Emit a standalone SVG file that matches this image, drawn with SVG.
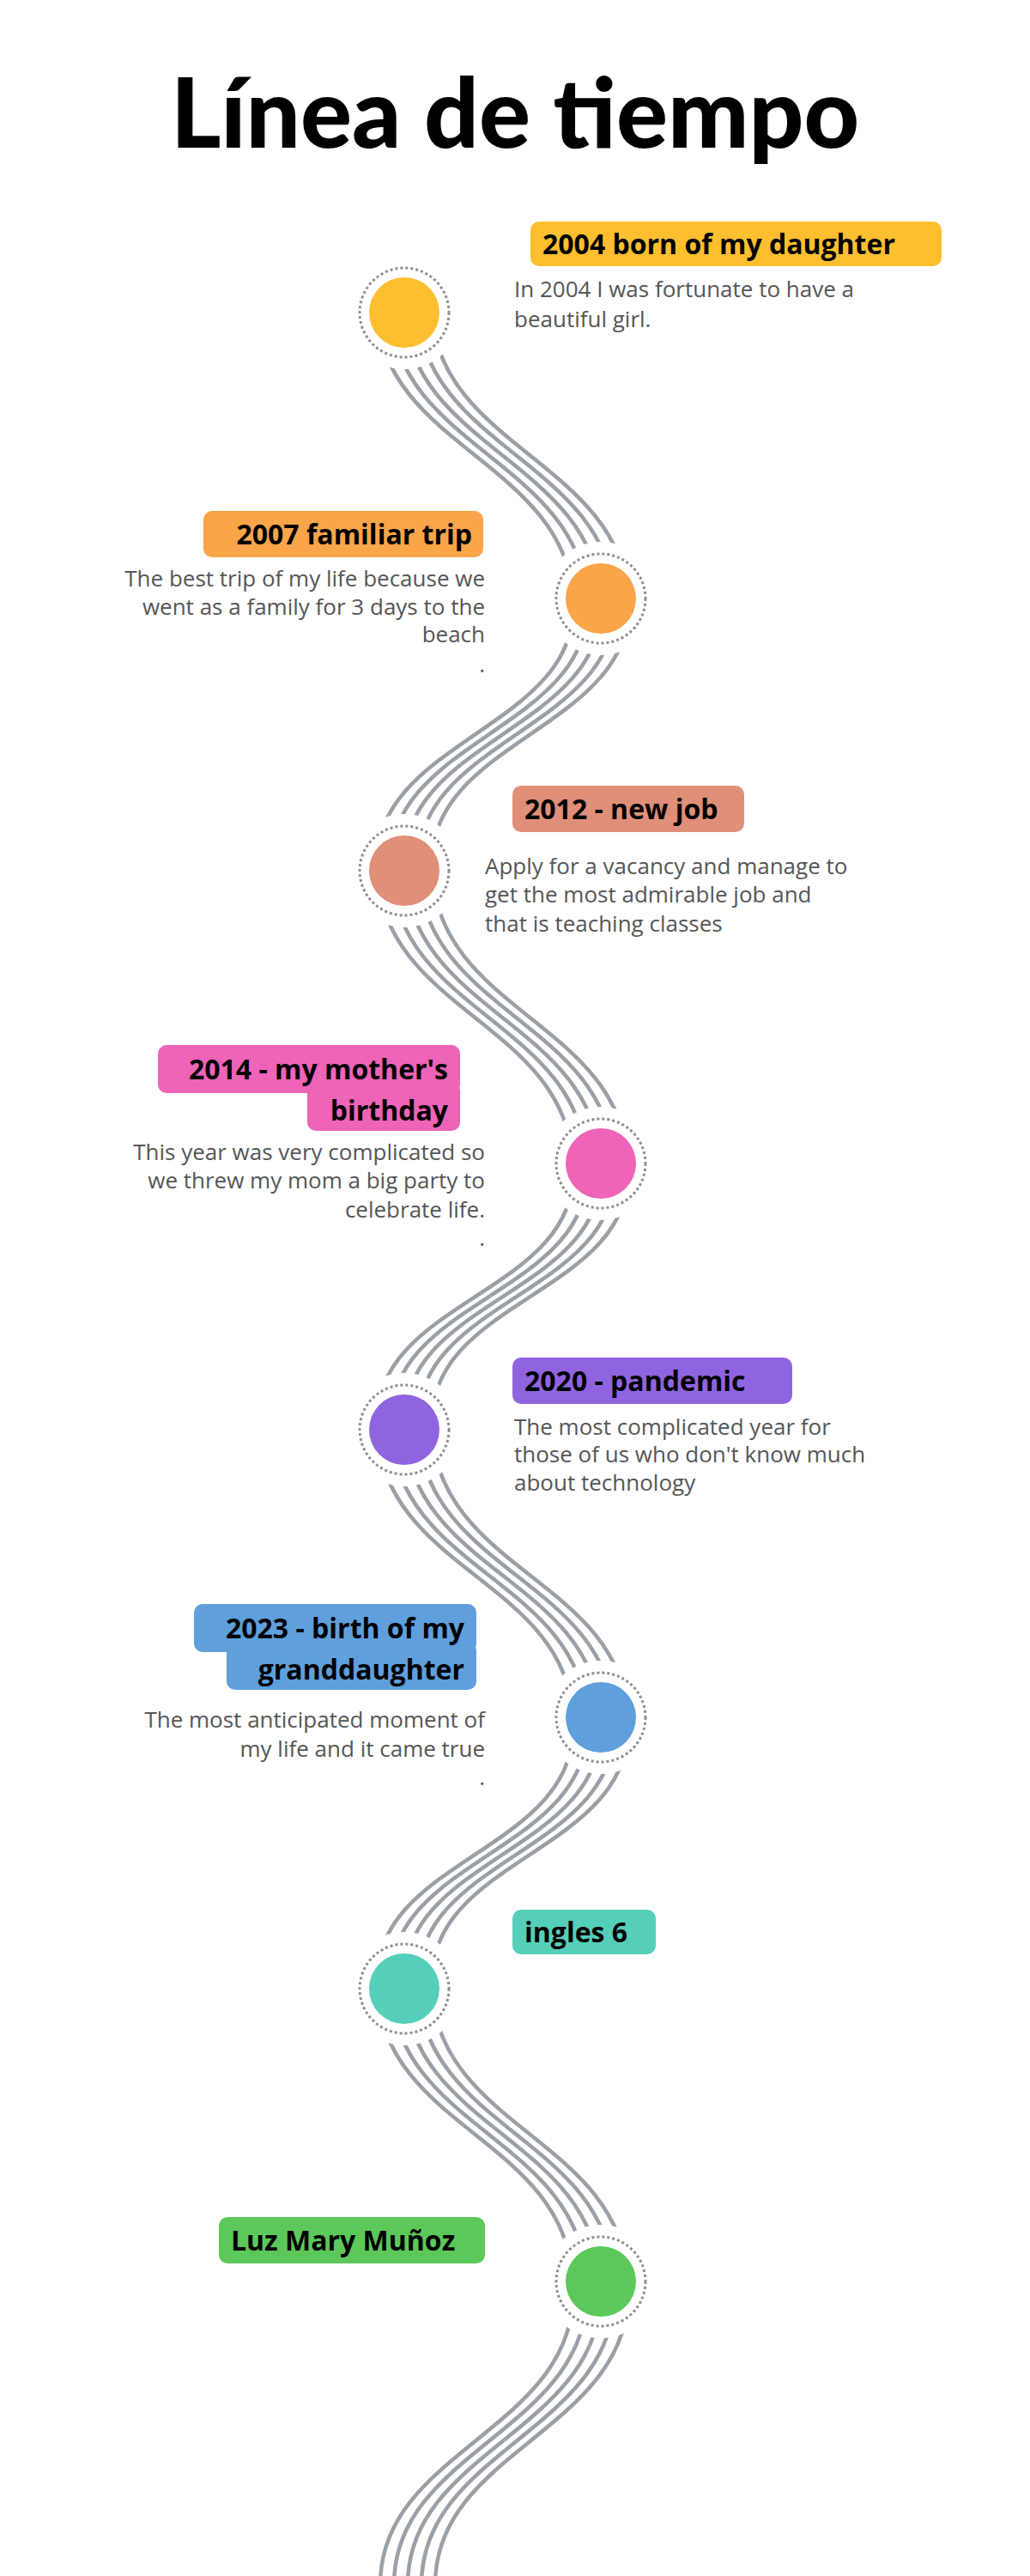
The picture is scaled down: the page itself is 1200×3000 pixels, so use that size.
<svg xmlns="http://www.w3.org/2000/svg" width="1200" height="3000" viewBox="0 0 1200 3000">
<style>
.title{font-family:Lato,"Liberation Sans",sans-serif;font-weight:900;font-size:112px;fill:#000}
.lab{font-family:"Open Sans","Liberation Sans",sans-serif;font-weight:700;font-size:32px;fill:#000}
.body{font-family:"Open Sans","Liberation Sans",sans-serif;font-size:26px;fill:#555}
.strand{fill:none;stroke:#9AA0A6;stroke-width:4.5}
.cover{fill:#fff}
.ring{fill:#fff;stroke:#8a9097;stroke-width:3;stroke-dasharray:3 3}
.r{text-anchor:end}
</style>
<defs>
<path id="wave" d="M471,364 C480,520 690,540 700,697 C710,850 462,860 471,1014 C480,1180 690,1190 700,1355 C710,1510 462,1510 471,1665 C480,1830 690,1840 700,2000 C710,2160 462,2160 471,2316 C480,2480 690,2490 700,2657 C710,2830 475,2850 475,3010"/>
</defs>
<rect width="1200" height="3000" fill="#fff"/>
<text class="title" x="600" y="172" text-anchor="middle">Línea de tiempo</text>
<g id="connectors">
<use href="#wave" class="strand" transform="translate(-32,0)"/>
<use href="#wave" class="strand" transform="translate(-16,0)"/>
<use href="#wave" class="strand"/>
<use href="#wave" class="strand" transform="translate(16,0)"/>
<use href="#wave" class="strand" transform="translate(32,0)"/>
</g>
<g id="n1"><circle class="cover" cx="471" cy="364" r="66"/><circle class="ring" cx="471" cy="364" r="52"/><circle cx="471" cy="364" r="41" fill="#FDBF2F"/>
<rect x="618" y="258" width="479" height="52" rx="10" fill="#FDBF2F"/><text class="lab" x="632" y="296">2004 born of my daughter</text>
<text class="body" x="599" y="346">In 2004 I was fortunate to have a</text><text class="body" x="599" y="381">beautiful girl.</text></g>
<g id="n2"><circle class="cover" cx="700" cy="697" r="66"/><circle class="ring" cx="700" cy="697" r="52"/><circle cx="700" cy="697" r="41" fill="#F9A54A"/>
<rect x="237" y="595" width="326" height="54" rx="10" fill="#F9A54A"/><text class="lab r" x="550" y="634">2007 familiar trip</text>
<text class="body r" x="565" y="683">The best trip of my life because we</text><text class="body r" x="565" y="716">went as a family for 3 days to the</text><text class="body r" x="565" y="748">beach</text><text class="body r" x="565" y="783">.</text></g>
<g id="n3"><circle class="cover" cx="471" cy="1014" r="66"/><circle class="ring" cx="471" cy="1014" r="52"/><circle cx="471" cy="1014" r="41" fill="#E08F78"/>
<rect x="597" y="915" width="270" height="54" rx="10" fill="#E08F78"/><text class="lab" x="611" y="954">2012 - new job</text>
<text class="body" x="565" y="1018">Apply for a vacancy and manage to</text><text class="body" x="565" y="1051">get the most admirable job and</text><text class="body" x="565" y="1085">that is teaching classes</text></g>
<g id="n4"><circle class="cover" cx="700" cy="1355" r="66"/><circle class="ring" cx="700" cy="1355" r="52"/><circle cx="700" cy="1355" r="41" fill="#EE64B8"/>
<rect x="184" y="1217" width="352" height="56" rx="10" fill="#EE64B8"/><rect x="358" y="1260" width="178" height="57" rx="10" fill="#EE64B8"/>
<text class="lab r" x="522" y="1257">2014 - my mother's</text><text class="lab r" x="522" y="1305">birthday</text>
<text class="body r" x="565" y="1351">This year was very complicated so</text><text class="body r" x="565" y="1384">we threw my mom a big party to</text><text class="body r" x="565" y="1418">celebrate life.</text><text class="body r" x="565" y="1451">.</text></g>
<g id="n5"><circle class="cover" cx="471" cy="1665" r="66"/><circle class="ring" cx="471" cy="1665" r="52"/><circle cx="471" cy="1665" r="41" fill="#9064E0"/>
<rect x="597" y="1581" width="326" height="54" rx="10" fill="#9064E0"/><text class="lab" x="611" y="1620">2020 - pandemic</text>
<text class="body" x="599" y="1671">The most complicated year for</text><text class="body" x="599" y="1703">those of us who don't know much</text><text class="body" x="599" y="1736">about technology</text></g>
<g id="n6"><circle class="cover" cx="700" cy="2000" r="66"/><circle class="ring" cx="700" cy="2000" r="52"/><circle cx="700" cy="2000" r="41" fill="#5E9FDC"/>
<rect x="226" y="1868" width="329" height="56" rx="10" fill="#5E9FDC"/><rect x="264" y="1912" width="291" height="56" rx="10" fill="#5E9FDC"/>
<text class="lab r" x="541" y="1908">2023 - birth of my</text><text class="lab r" x="541" y="1956">granddaughter</text>
<text class="body r" x="565" y="2012">The most anticipated moment of</text><text class="body r" x="565" y="2046">my life and it came true</text><text class="body r" x="565" y="2079">.</text></g>
<g id="n7"><circle class="cover" cx="471" cy="2316" r="66"/><circle class="ring" cx="471" cy="2316" r="52"/><circle cx="471" cy="2316" r="41" fill="#55CFB9"/>
<rect x="597" y="2224" width="167" height="52" rx="10" fill="#55CFB9"/><text class="lab" x="611" y="2262">ingles 6</text></g>
<g id="n8"><circle class="cover" cx="700" cy="2657" r="66"/><circle class="ring" cx="700" cy="2657" r="52"/><circle cx="700" cy="2657" r="41" fill="#5CC85A"/>
<rect x="255" y="2582" width="310" height="54" rx="10" fill="#5CC85A"/><text class="lab" x="269" y="2621">Luz Mary Muñoz</text></g>
</svg>
